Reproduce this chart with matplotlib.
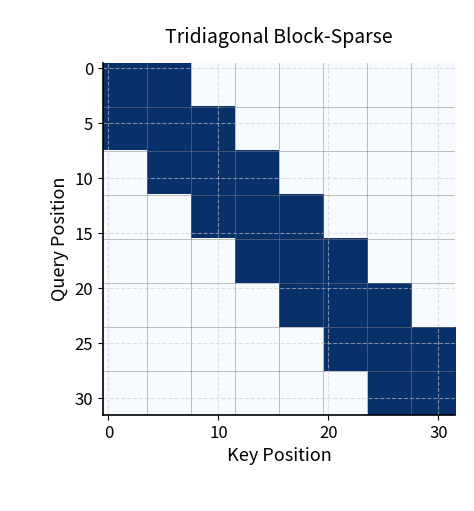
import numpy as np
import matplotlib
matplotlib.use("Agg")
import matplotlib.pyplot as plt

plt.rcParams['font.family'] = ['Noto Sans CJK KR', 'DejaVu Sans']

block_size = 4
block_pattern = [
    [1,1,0,0,0,0,0,0],
    [1,1,1,0,0,0,0,0],
    [0,1,1,1,0,0,0,0],
    [0,0,1,1,1,0,0,0],
    [0,0,0,1,1,1,0,0],
    [0,0,0,0,1,1,1,0],
    [0,0,0,0,0,1,1,1],
    [0,0,0,0,0,0,1,1],
]
mask = np.kron(np.array(block_pattern), np.ones((block_size, block_size)))
n = mask.shape[0]

fig = plt.figure(figsize=(4.74, 5.11), dpi=100)
ax = fig.add_axes([0.217, 0.188, 0.743, 0.689])
ax.imshow(mask, cmap='Blues', vmin=0, vmax=1, interpolation='nearest', aspect='equal')

ax.set_xticks(np.arange(0, n, 10))
ax.set_yticks(np.arange(0, n, 5))
ax.grid(True, color='#cccccc', linestyle='--', linewidth=0.8, alpha=0.6)
for b in range(1, n // block_size):
    p = b * block_size - 0.5
    ax.axvline(p, color='gray', linewidth=0.5, alpha=0.7)
    ax.axhline(p, color='gray', linewidth=0.5, alpha=0.7)

for s in ['top', 'right']:
    ax.spines[s].set_visible(False)
ax.spines['left'].set_linewidth(1.2)
ax.spines['bottom'].set_linewidth(1.2)

ax.tick_params(labelsize=12)
ax.set_xlabel('Key Position', fontsize=13)
ax.set_ylabel('Query Position', fontsize=13)
ax.set_title('Tridiagonal Block-Sparse', fontsize=14, pad=14)

fig.savefig('out.png', dpi=100)
